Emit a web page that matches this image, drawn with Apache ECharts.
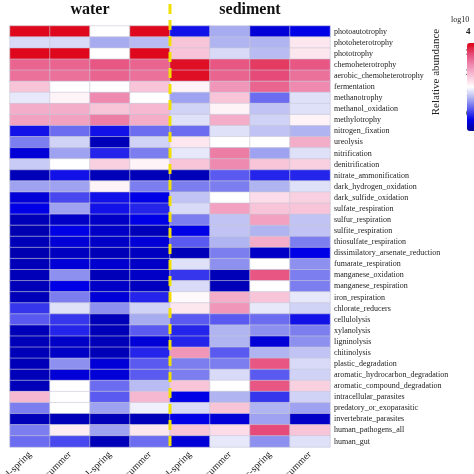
<!DOCTYPE html>
<html>
<head>
<meta charset="utf-8">
<script src="https://cdn.jsdelivr.net/npm/echarts@6/dist/echarts.min.js"></script>
<style>html,body{margin:0;padding:0;background:#fff}#main{width:474px;height:474px}</style>
</head>
<body>
<div id="main"></div>
<script>
// 样本（列）
var samples = ['Wetland-spring', 'Wetland-summer', 'Canal-spring', 'Canal-summer',
               'Wetland-spring', 'Wetland-summer', 'Basic-spring', 'Basic-summer'];
// 功能（行）
var functions = ['photoautotrophy', 'photoheterotrophy', 'phototrophy', 'chemoheterotrophy',
  'aerobic_chemoheterotrophy', 'fermentation', 'methanotrophy', 'methanol_oxidation',
  'methylotrophy', 'nitrogen_fixation', 'ureolysis', 'nitrification', 'denitrification',
  'nitrate_ammonification', 'dark_hydrogen_oxidation', 'dark_sulfide_oxidation',
  'sulfate_respiration', 'sulfur_respiration', 'sulfite_respiration', 'thiosulfate_respiration',
  'dissimilatory_arsenate_reduction', 'fumarate_respiration', 'manganese_oxidation',
  'manganese_respiration', 'iron_respiration', 'chlorate_reducers', 'cellulolysis',
  'xylanolysis', 'ligninolysis', 'chitinolysis', 'plastic_degradation',
  'aromatic_hydrocarbon_degradation', 'aromatic_compound_degradation',
  'intracellular_parasites', 'predatory_or_exoparasitic', 'invertebrate_parasites',
  'human_pathogens_all', 'human_gut'];
// log10 相对丰度，每行 8 个样本
var values = [
  [3.95, 3.95, 2.0, 3.95, 0.6, 1.45, 0.4, 0.5],
  [1.75, 1.75, 1.45, 1.55, 2.5, 1.5, 1.5, 2.2],
  [3.95, 3.95, 2.0, 3.95, 2.5, 1.75, 1.55, 2.2],
  [3.3, 3.3, 3.4, 3.3, 3.9, 3.4, 3.6, 3.4],
  [3.2, 3.2, 3.3, 3.2, 3.9, 3.3, 3.5, 3.2],
  [2.5, 2.0, 2.0, 2.5, 2.1, 2.9, 3.3, 3.0],
  [1.85, 2.1, 3.0, 2.0, 1.4, 2.5, 1.1, 1.8],
  [2.7, 2.7, 2.5, 2.6, 1.7, 2.1, 1.6, 1.8],
  [2.8, 2.8, 3.1, 2.7, 1.8, 2.7, 1.7, 2.1],
  [0.6, 1.1, 0.6, 1.1, 1.1, 1.8, 1.6, 1.5],
  [1.2, 1.7, 0.2, 1.7, 2.2, 2.0, 2.0, 2.7],
  [0.4, 1.4, 0.7, 1.2, 1.85, 3.1, 1.4, 1.8],
  [1.65, 2.0, 2.4, 2.1, 2.5, 3.0, 2.5, 2.4],
  [0.2, 0.6, 0.2, 0.2, 0.2, 1.0, 0.7, 0.7],
  [1.4, 1.4, 2.1, 1.2, 1.2, 1.2, 1.5, 1.8],
  [0.4, 0.9, 0.6, 0.5, 1.6, 2.0, 2.3, 2.4],
  [0.5, 1.4, 0.6, 0.7, 1.75, 2.8, 2.5, 2.5],
  [0.2, 0.3, 0.3, 0.5, 1.2, 1.6, 2.8, 1.6],
  [0.15, 0.5, 0.3, 0.2, 0.5, 1.6, 1.5, 1.6],
  [0.2, 0.4, 0.3, 0.4, 1.0, 1.5, 2.7, 1.2],
  [0.15, 0.25, 0.2, 0.25, 0.2, 1.2, 0.3, 0.5],
  [0.2, 0.4, 0.35, 0.3, 1.8, 1.3, 2.0, 1.3],
  [0.2, 1.3, 0.2, 0.3, 0.8, 0.2, 3.4, 1.2],
  [0.2, 0.5, 0.3, 0.25, 1.75, 0.2, 2.0, 1.2],
  [0.2, 1.2, 0.4, 0.7, 2.05, 2.7, 2.5, 1.85],
  [0.8, 1.8, 1.3, 1.7, 2.2, 2.9, 1.85, 1.7],
  [1.0, 0.8, 0.2, 1.45, 1.0, 1.0, 1.1, 0.6],
  [0.2, 0.7, 0.2, 1.0, 0.7, 1.5, 1.3, 1.2],
  [0.2, 0.3, 0.2, 0.4, 0.7, 1.5, 0.4, 1.3],
  [0.2, 0.3, 0.2, 0.7, 2.9, 1.0, 1.5, 1.6],
  [0.2, 1.3, 0.4, 1.0, 1.2, 1.2, 3.4, 1.75],
  [0.2, 0.4, 0.4, 1.0, 1.2, 1.75, 1.0, 1.7],
  [0.2, 2.0, 1.1, 1.55, 2.5, 2.0, 3.4, 2.4],
  [2.6, 2.0, 1.0, 2.6, 0.5, 1.5, 0.8, 1.7],
  [1.2, 2.0, 1.4, 1.9, 1.75, 2.5, 1.5, 1.4],
  [0.2, 0.2, 0.2, 0.2, 0.5, 0.4, 1.4, 0.3],
  [1.2, 2.15, 1.4, 2.2, 2.5, 2.3, 3.5, 2.5],
  [1.1, 0.9, 0.2, 1.1, 0.4, 1.85, 1.3, 1.8]
];
var legendTicks = ['4', '3', '2', '1', '0'];

var data = [];
values.forEach(function (row, r) {
  row.forEach(function (v, c) { data.push([c, r, v]); });
});

var font = 'Liberation Serif';
var myChart = echarts.init(document.getElementById('main'));
myChart.setOption({
  animation: false,
  grid: { left: 10, right: 144, top: 26, bottom: 27, outerBoundsMode: 'none', containLabel: false },
  xAxis: {
    type: 'category', data: samples,
    axisLine: { show: false }, axisTick: { show: false }, splitArea: { show: false },
    axisLabel: { rotate: 45, fontFamily: font, fontSize: 10, color: '#222', margin: 6, interval: 0 }
  },
  yAxis: {
    type: 'category', data: functions, inverse: true, position: 'right',
    axisLine: { show: false }, axisTick: { show: false },
    axisLabel: { fontFamily: font, fontSize: 8, color: '#222', margin: 4, interval: 0 }
  },
  visualMap: {
    type: 'continuous', min: 0, max: 4, calculable: false,
    left: 452, top: 28, itemWidth: 9, itemHeight: 88, showLabel: false,
    inRange: { color: ['#000099', '#0000e6', '#5a5af0', '#b0b4f0', '#ffffff',
                       '#f8c4d8', '#ee8ab0', '#e64a78', '#dd0011'] }
  },
  series: [{
    type: 'heatmap', data: data,
    itemStyle: { borderColor: '#c8c8d8', borderWidth: 0.6 }
  }]
});

// 分组标题、分隔线与图例刻度
function drawExtras() {
  var x0 = myChart.convertToPixel({ xAxisIndex: 0 }, 0);
  var x3 = myChart.convertToPixel({ xAxisIndex: 0 }, 3);
  var x4 = myChart.convertToPixel({ xAxisIndex: 0 }, 4);
  var x7 = myChart.convertToPixel({ xAxisIndex: 0 }, 7);
  var sep = (x3 + x4) / 2;
  var els = [
    { type: 'text', style: { text: 'water', x: (x0 + x3) / 2, y: 10, align: 'center', verticalAlign: 'middle',
        font: 'bold 16px "Liberation Serif"', fill: '#111' } },
    { type: 'text', style: { text: 'sediment', x: (x4 + x7) / 2, y: 10, align: 'center', verticalAlign: 'middle',
        font: 'bold 16px "Liberation Serif"', fill: '#111' } },
    { type: 'line', z: 100, shape: { x1: sep, y1: 4, x2: sep, y2: 447 },
      style: { stroke: '#f0e000', lineWidth: 3, lineDash: [10, 6] } },
    { type: 'text', style: { text: 'log10', x: 451, y: 20, font: '8px "Liberation Serif"', fill: '#222', verticalAlign: 'middle' } },
    { type: 'text', rotation: Math.PI / 2, x: 436, y: 72,
      style: { text: 'Relative abundance', align: 'center', verticalAlign: 'middle',
               font: '11px "Liberation Serif"', fill: '#222' } }
  ];
  legendTicks.forEach(function (t, i) {
    els.push({ type: 'text', style: { text: t, x: 466, y: 32 + i * 20.5, font: 'bold 9px "Liberation Serif"',
      fill: '#222', verticalAlign: 'middle' } });
  });
  myChart.setOption({ graphic: els });
}
drawExtras();
</script>
</body>
</html>
